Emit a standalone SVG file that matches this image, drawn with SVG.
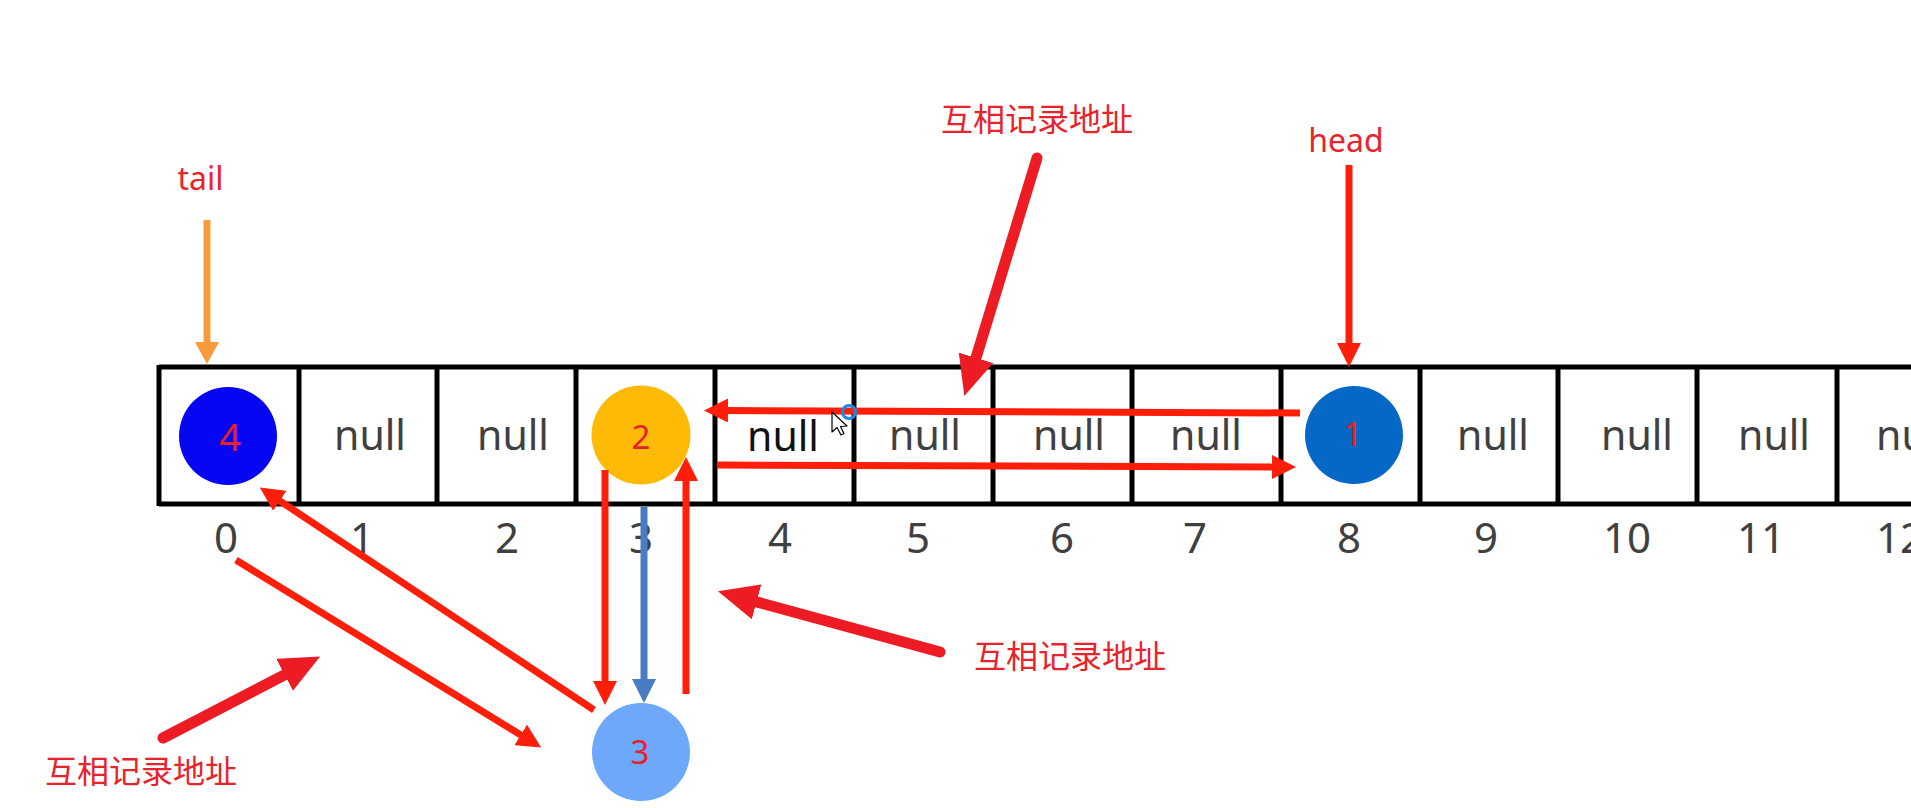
<svg xmlns="http://www.w3.org/2000/svg" width="1911" height="808" viewBox="0 0 1911 808">
<defs>
<style>
.grid{stroke:#000;stroke-width:5;fill:none}
.idx{font-family:"Noto Sans","Open Sans",sans-serif;font-size:42px;fill:#404040;text-anchor:middle}
.nul{font-family:"Noto Sans","Open Sans",sans-serif;font-size:41px;fill:#404040;text-anchor:middle}
.num{font-family:"Noto Sans","Open Sans",sans-serif;font-size:33px;fill:#E8202A;text-anchor:middle}
.ann{font-family:"Noto Sans","Noto Sans CJK SC",sans-serif;font-size:32px;fill:#E8232B}
.cjk{font-family:"Noto Sans CJK SC","Noto Sans",sans-serif;font-size:32px;fill:#E8232B}
.red{stroke:#FF1E0A;stroke-width:7;fill:none}
.blue{stroke:#4A7CC4;stroke-width:7;fill:none}
.orange{stroke:#F89B3C;stroke-width:7;fill:none}
.big{stroke:#ED1C24;stroke-width:11;fill:none;stroke-linecap:round}
</style>
<marker id="hRed" viewBox="0 -12 24 24" markerWidth="24" markerHeight="24" refX="1" refY="0" orient="auto" markerUnits="userSpaceOnUse"><path d="M0,-12 L24,0 L0,12 z" fill="#FF1E0A"/></marker>
<marker id="hBlue" viewBox="0 -12 24 24" markerWidth="24" markerHeight="24" refX="1" refY="0" orient="auto" markerUnits="userSpaceOnUse"><path d="M0,-12 L24,0 L0,12 z" fill="#4A7CC4"/></marker>
<marker id="hOrange" viewBox="0 -12 22 24" markerWidth="22" markerHeight="24" refX="1" refY="0" orient="auto" markerUnits="userSpaceOnUse"><path d="M0,-12 L22,0 L0,12 z" fill="#F89B3C"/></marker>
<marker id="hBig" viewBox="0 -18 40 36" markerWidth="40" markerHeight="36" refX="1" refY="0" orient="auto" markerUnits="userSpaceOnUse"><path d="M0,-18 L40,0 L0,18 z" fill="#ED1C24"/></marker>
</defs>
<rect width="1911" height="808" fill="#fff"/>

<g id="array">
<line class="grid" x1="159" y1="367" x2="1911" y2="367"/>
<line class="grid" x1="159" y1="504" x2="1911" y2="504"/>
<line class="grid" x1="159" y1="365" x2="159" y2="506"/>
<line class="grid" x1="299" y1="367" x2="299" y2="504"/>
<line class="grid" x1="437" y1="367" x2="437" y2="504"/>
<line class="grid" x1="576" y1="367" x2="576" y2="504"/>
<line class="grid" x1="715" y1="367" x2="715" y2="504"/>
<line class="grid" x1="854" y1="367" x2="854" y2="504"/>
<line class="grid" x1="993" y1="367" x2="993" y2="504"/>
<line class="grid" x1="1132" y1="367" x2="1132" y2="504"/>
<line class="grid" x1="1281" y1="367" x2="1281" y2="504"/>
<line class="grid" x1="1420" y1="367" x2="1420" y2="504"/>
<line class="grid" x1="1558" y1="367" x2="1558" y2="504"/>
<line class="grid" x1="1697" y1="367" x2="1697" y2="504"/>
<line class="grid" x1="1837" y1="367" x2="1837" y2="504"/>
<text class="nul" x="370" y="450">null</text>
<text class="nul" x="513" y="450">null</text>
<text class="nul" x="783" y="451" style="fill:#111">null</text>
<text class="nul" x="925" y="450">null</text>
<text class="nul" x="1069" y="450">null</text>
<text class="nul" x="1206" y="450">null</text>
<text class="nul" x="1493" y="450">null</text>
<text class="nul" x="1637" y="450">null</text>
<text class="nul" x="1774" y="450">null</text>
<text class="nul" x="1912" y="450">null</text>
<text class="idx" x="226" y="553">0</text>
<text class="idx" x="362" y="553">1</text>
<text class="idx" x="507" y="553">2</text>
<text class="idx" x="641" y="553">3</text>
<text class="idx" x="780" y="553">4</text>
<text class="idx" x="918" y="553">5</text>
<text class="idx" x="1062" y="553">6</text>
<text class="idx" x="1195" y="553">7</text>
<text class="idx" x="1349" y="553">8</text>
<text class="idx" x="1486" y="553">9</text>
<text class="idx" x="1627" y="553">10</text>
<text class="idx" x="1761" y="553">11</text>
<text class="idx" x="1900" y="553">12</text>
</g>

<g id="node4">
<circle cx="228" cy="436" r="49" fill="#0606F2"/>
<text class="num" x="230" y="451" style="font-size:38px">4</text>
</g>
<g id="node2">
<circle cx="641" cy="435" r="49.5" fill="#FFBA08"/>
<text class="num" x="641" y="449">2</text>
</g>
<g id="node1">
<circle cx="1354" cy="435" r="49" fill="#0567C6"/>
<text class="num" x="1353" y="446">1</text>
</g>
<g id="node3">
<circle cx="641" cy="752" r="49" fill="#6EA8FA"/>
<text class="num" x="640" y="764">3</text>
</g>

<g id="labels">
<text class="ann" x="200.5" y="190" text-anchor="middle">tail</text>
<text class="ann" x="1346" y="152" text-anchor="middle">head</text>
<text class="cjk" x="941" y="131">互相记录地址</text>
<text class="cjk" x="974" y="668">互相记录地址</text>
<text class="cjk" x="45" y="783">互相记录地址</text>
</g>

<g id="connectors">
<line class="orange" x1="207" y1="220" x2="207" y2="343" marker-end="url(#hOrange)"/>
<line class="red" x1="1349" y1="165" x2="1349" y2="344" stroke-width="6" marker-end="url(#hRed)"/>
<line class="big" x1="1037" y1="158" x2="975.7" y2="358.8" marker-end="url(#hBig)"/>
<line class="red" x1="1300" y1="413" x2="727" y2="410.5" marker-end="url(#hRed)"/>
<line class="red" x1="717" y1="465" x2="1273" y2="467" marker-end="url(#hRed)"/>
<line class="red" x1="605" y1="470" x2="605" y2="682" marker-end="url(#hRed)"/>
<line class="blue" x1="644" y1="507" x2="644" y2="680" marker-end="url(#hBlue)"/>
<line class="red" x1="686" y1="694" x2="686" y2="480" marker-end="url(#hRed)"/>
<line class="red" x1="594" y1="710" x2="279" y2="500.3" marker-end="url(#hRed)"/>
<line class="red" x1="236" y1="560" x2="521.6" y2="735.4" marker-end="url(#hRed)"/>
<line class="big" x1="163" y1="738" x2="285.5" y2="674.4" marker-end="url(#hBig)"/>
<line class="big" x1="940" y1="652" x2="755.6" y2="601.6" marker-end="url(#hBig)"/>
</g>

<g id="pointer">
<polygon points="832,412 832,432 837,427.5 841,435 844,433.5 840.5,426.5 847,426" fill="#fff" stroke="#000" stroke-width="1.2" stroke-linejoin="round"/>
<circle cx="849" cy="412" r="6.5" fill="none" stroke="#1E88E5" stroke-width="3"/>
</g>
</svg>
